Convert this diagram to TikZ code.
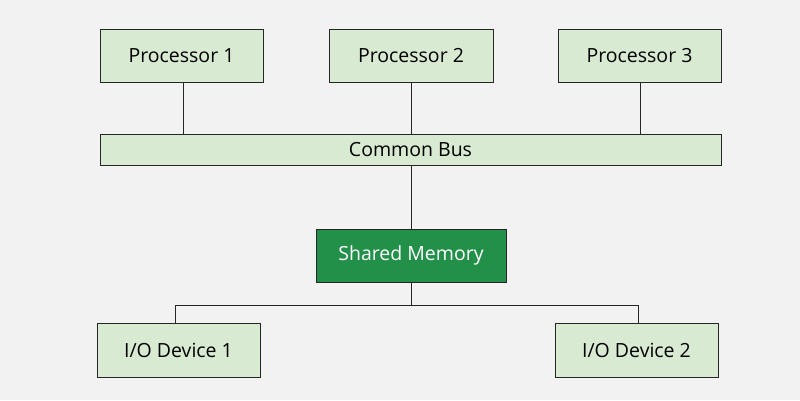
\documentclass[tikz,border=0pt]{standalone}
\usepackage{fontspec}
\setmainfont{Open Sans}
\begin{document}
\begin{tikzpicture}[x=1pt,y=-1pt,
  box/.style={draw=black!85,line width=1pt,fill=boxg,font=\fontsize{19.5}{22}\selectfont},
  ln/.style={draw=black!85,line width=1pt}]
\definecolor{boxg}{HTML}{D9EAD3}
\definecolor{memg}{HTML}{23904A}
\definecolor{bg}{HTML}{F2F2F2}
\fill[bg] (0,0) rectangle (800,400);
\useasboundingbox (0,0) rectangle (800,400);
\node[box,minimum width=163pt,minimum height=53pt] (p1) at (181.5,55.5) {Processor 1};
\node[box,minimum width=164pt,minimum height=53pt] (p2) at (411,55.5) {Processor 2};
\node[box,minimum width=163pt,minimum height=53pt] (p3) at (639.5,55.5) {Processor 3};
\node[box,minimum width=621pt,minimum height=31pt] (bus) at (410.5,149.5) {Common Bus};
\node[box,fill=memg,text=white,minimum width=190pt,minimum height=53pt] (sm) at (411,255.5) {Shared Memory};
\node[box,minimum width=163pt,minimum height=54pt] (io1) at (178.5,350) {I/O Device 1};
\node[box,minimum width=163pt,minimum height=54pt] (io2) at (636.5,350) {I/O Device 2};
\coordinate (j) at (411,305);
\draw[ln] (183,82) -- (183,134);
\draw[ln] (p2.south) -- (p2.south |- bus.north);
\draw[ln] (640,82) -- (640,134);
\draw[ln] (bus.south -| sm.north) -- (sm.north);
\draw[ln] (sm.south) -- (j);
\draw[ln] (175,323) -- (175,305) -- (638,305) -- (638,323);
\end{tikzpicture}
\end{document}
